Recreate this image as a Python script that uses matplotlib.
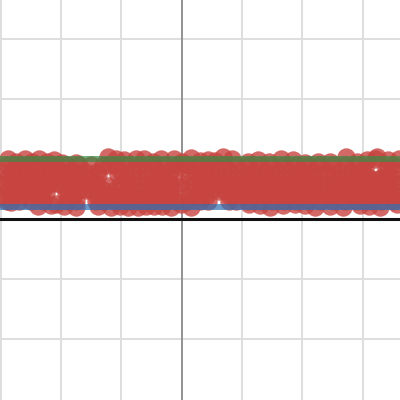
import numpy as np
import matplotlib
matplotlib.use("Agg")
import matplotlib.pyplot as plt

# horizontal lines
green_level = 1.0
blue_level = 0.2

# outer bubbles, top edge
top_x = [-2.88, -2.60, -2.36, -2.12, -1.75, -1.22, -1.09, -0.76, -0.63, -0.35, -0.13, 0.15,
         0.43, 0.68, 0.84, 1.27, 1.64, 1.85, 2.26, 2.73, 3.07, 3.24, 3.42, 3.60,
         -2.75, -2.48, -2.24, -1.98, -0.95, -0.48, 0.0, 0.30, 0.55, 1.10, 1.45, 2.05, 2.45, 2.90]
top_y = [1.00, 1.01, 1.00, 0.99, 0.93, 1.03, 1.00, 1.01, 1.00, 1.00, 1.00, 1.02,
         0.98, 1.03, 1.01, 0.98, 1.01, 0.98, 0.95, 1.03, 0.98, 1.03, 0.98, 1.00,
         0.96, 0.96, 0.96, 0.94, 0.99, 0.96, 0.96, 0.97, 0.97, 0.95, 0.96, 0.93, 0.95, 0.96]

# outer bubbles, bottom edge
bottom_x = [-2.83, -2.38, -2.17, -1.95, -1.75, -1.39, -1.17, -0.89, -0.73, -0.46, -0.18, 0.15,
            1.11, 1.47, 1.88, 2.21, 2.68, 3.29, 3.57,
            -1.03, -0.60, -0.32, 1.30, 1.68, 2.05, 2.45, 2.95, 3.10]
bottom_y = [0.28, 0.22, 0.24, 0.22, 0.20, 0.22, 0.20, 0.20, 0.20, 0.22, 0.20, 0.20,
            0.26, 0.20, 0.25, 0.20, 0.20, 0.20, 0.26,
            0.22, 0.22, 0.22, 0.23, 0.23, 0.23, 0.22, 0.24, 0.22]

# inner rows, with gaps left where the white specks are
row_90 = [-2.9, -2.7, -2.5, -2.3, -2.1, -1.9, -1.7, -1.5, -1.3, -1.1, -0.9, -0.7, -0.5, -0.3, -0.1,
          0.1, 0.3, 0.5, 0.7, 0.9, 1.1, 1.3, 1.5, 1.7, 1.9, 2.1, 2.3, 2.5, 2.7, 2.9, 3.5]
row_78 = [-3.0, -2.8, -2.6, -2.4, -2.2, -2.0, -1.8, -1.6, -1.4, -1.0, -0.8, -0.6, -0.4, -0.2,
          0.2, 0.4, 0.6, 0.8, 1.0, 1.2, 1.4, 1.6, 1.8, 2.0, 2.2, 2.4, 2.6, 2.8, 3.0, 3.4, 3.6]
row_68 = [-2.9, -2.7, -2.5, -2.3, -2.1, -1.9, -1.7, -1.5, -0.9, -0.7, -0.5, -0.3,
          0.3, 0.5, 0.7, 0.9, 1.1, 1.3, 1.5, 1.7, 1.9, 2.1, 2.3, 2.5, 2.7, 2.9, 3.1, 3.3, 3.5]
row_58 = [-3.0, -2.8, -2.6, -2.4, -2.2, -2.0, -1.8, -1.6, -1.4, -1.0, -0.8, -0.6, -0.4, -0.2,
          0.2, 0.4, 0.6, 0.8, 1.0, 1.2, 1.4, 1.6, 1.8, 2.0, 2.2, 2.4, 2.6, 2.8, 3.0, 3.2, 3.4, 3.6]
row_48 = [-2.9, -2.7, -2.5, -2.3, -1.9, -1.7, -1.5, -1.3, -1.1, -0.9, -0.7, -0.5, -0.3,
          0.3, 0.5, 0.7, 0.9, 1.1, 1.3, 1.5, 1.7, 1.9, 2.1, 2.3, 2.5, 2.7, 2.9, 3.1, 3.3, 3.5]
row_38 = [-3.0, -2.8, -2.6, -2.4, -1.8, -1.4, -1.2, -1.0, -0.8, -0.6, -0.4, -0.2,
          0.2, 0.4, 0.8, 1.0, 1.2, 1.4, 1.6, 1.8, 2.0, 2.2, 2.4, 2.6, 2.8, 3.0, 3.2, 3.4, 3.6]
row_30 = [-2.9, -2.7, -2.5, -2.3, -1.9, -1.3, -1.1, -0.9, -0.7, -0.5, -0.3, -0.1,
          0.1, 0.3, 0.9, 1.1, 1.3, 1.5, 1.7, 1.9, 2.1, 2.3, 2.5, 2.7, 2.9, 3.1, 3.3, 3.5]

# bubbles just around the specks
ring_x = [-1.39, -1.05, -1.22, -1.22, 3.03, 3.39, 3.21, 3.21, -0.19, 0.15, -0.02, -0.02,
          -2.25, -1.91, -2.08, -2.08, -1.76, -1.42, -1.59, 0.44, 0.78, 0.61,
          -0.22, 0.12, -0.05, -0.05]
ring_y = [0.73, 0.73, 0.90, 0.55, 0.83, 0.83, 1.00, 0.66, 0.43, 0.43, 0.60, 0.26,
          0.43, 0.43, 0.60, 0.26, 0.31, 0.31, 0.48, 0.30, 0.30, 0.47,
          0.71, 0.71, 0.88, 0.54]

grid_x = [-3, -2, -1, 1, 2, 3]
grid_y = [-2, -1, 1, 2, 3]

red_x = top_x + bottom_x + row_90 + row_78 + row_68 + row_58 + row_48 + row_38 + row_30 + ring_x
red_y = (top_y + bottom_y + [0.90] * len(row_90) + [0.78] * len(row_78) + [0.68] * len(row_68)
         + [0.58] * len(row_58) + [0.48] * len(row_48) + [0.38] * len(row_38)
         + [0.30] * len(row_30) + ring_y)

fig = plt.figure(figsize=(4, 4), dpi=100)
ax = fig.add_axes([0, 0, 1, 1])
ax.set_xlim(-3.012, 3.618)
ax.set_ylim(-3.007, 3.649)
ax.axis("off")

for g in grid_x:
    ax.axvline(g, color="#dedede", lw=1.4, zorder=1)
for g in grid_y:
    ax.axhline(g, color="#dedede", lw=1.4, zorder=1)
ax.axvline(0, color="#929292", lw=1.4, zorder=2)
ax.axhline(0, color="#111111", lw=2.2, zorder=2)

ax.scatter(red_x, red_y, s=175, color="#c74440", alpha=0.8, linewidths=0, zorder=3)

ax.axhline(green_level, color="#388c46", lw=4.3, alpha=0.7, zorder=4)
ax.axhline(blue_level, color="#2d70b3", lw=4.3, alpha=0.7, zorder=4)

fig.savefig("out.png", dpi=100)
